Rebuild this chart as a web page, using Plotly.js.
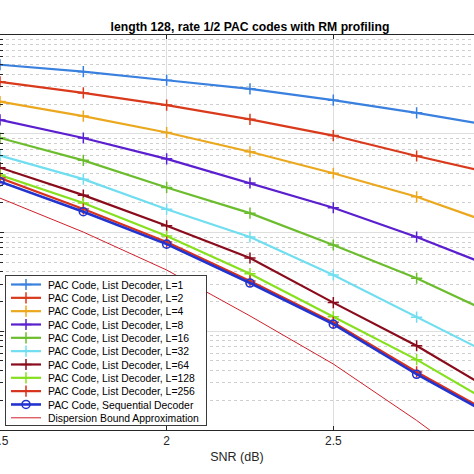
<!DOCTYPE html>
<html>
<head>
<meta charset="utf-8">
<script src="https://cdn.plot.ly/plotly-3.0.1.min.js"></script>
<style>
  html, body { margin: 0; padding: 0; background: #fff; }
  #chart { width: 474px; height: 474px; }
</style>
</head>
<body>
<div id="chart"></div>
<script>
// SNR grid (dB)
const snr = [1.5, 1.75, 2, 2.25, 2.5, 2.75, 3];

// Frame error rates, list decoder with list size L
const ferL1   = [0.50, 0.425, 0.348, 0.285, 0.219, 0.163, 0.117];
const ferL2   = [0.336, 0.259, 0.195, 0.140, 0.0959, 0.0595, 0.0382];
const ferL4   = [0.212, 0.151, 0.103, 0.0657, 0.0398, 0.0230, 0.0116];
const ferL8   = [0.138, 0.0906, 0.0557, 0.0317, 0.0178, 0.0090, 0.0042];
const ferL16  = [0.0906, 0.0538, 0.0286, 0.0157, 0.00747, 0.00344, 0.00139];
const ferL32  = [0.0600, 0.0347, 0.0172, 0.0090, 0.00372, 0.00139, 0.000524];
const ferL64  = [0.0453, 0.0239, 0.0117, 0.00552, 0.00195, 0.000713, 0.000226];
const ferL128 = [0.0382, 0.0199, 0.00922, 0.00383, 0.00140, 0.000516, 0.000167];
const ferL256 = [0.0356, 0.0173, 0.00801, 0.00323, 0.00123, 0.000387, 0.000132];

// Sequential decoder and the dispersion-bound approximation
const ferSeq   = [0.0327, 0.01625, 0.00762, 0.00308, 0.00118, 0.000367, 0.000126];
const ferBound = [0.0223, 0.0101, 0.00417, 0.00143, 0.000466, 0.000125, 0.000030];

const listSizes = [1, 2, 4, 8, 16, 32, 64, 128, 256];
const listSeries = [ferL1, ferL2, ferL4, ferL8, ferL16, ferL32, ferL64, ferL128, ferL256];
const listColors = ['#3a80de', '#d93a1c', '#eba81f', '#5a1fce', '#6cbd2e',
                    '#70def0', '#8a0c1c', '#86e01e', '#d8321c'];

const FONT = 'Liberation Sans, Arial, Helvetica, sans-serif';

const traces = listSeries.map((ys, i) => ({
  x: snr, y: ys, type: 'scatter', mode: 'lines+markers',
  name: 'PAC Code, List Decoder, L=' + listSizes[i],
  line: { color: listColors[i], width: 2.2 },
  marker: { symbol: 'cross-thin', size: 8,
            line: { color: listColors[i], width: 1.5 } }
}));

traces.push({
  x: snr, y: ferSeq, type: 'scatter', mode: 'lines+markers',
  name: 'PAC Code, Sequential Decoder',
  line: { color: '#2233cf', width: 2.6 },
  marker: { symbol: 'circle-open', size: 8,
            line: { color: '#2233cf', width: 1.6 } }
});

traces.push({
  x: snr, y: ferBound, type: 'scatter', mode: 'lines',
  name: 'Dispersion Bound Approximation',
  line: { color: '#d0202a', width: 1 }
});

const layout = {
  width: 474, height: 474,
  margin: { l: 0, r: 0, t: 35, b: 44, pad: 0 },
  paper_bgcolor: '#fff', plot_bgcolor: '#fff',
  font: { family: FONT, color: '#262626', size: 12 },
  showlegend: true,
  title: {
    text: '<b>length 128, rate 1/2 PAC codes with RM profiling</b>',
    font: { family: FONT, size: 12.2, color: '#000' },
    x: 250 / 474, xref: 'paper', xanchor: 'center',
    y: 1 - 27 / 474, yref: 'container', yanchor: 'middle'
  },
  xaxis: {
    range: [1.5, 1.5 + 474 / 333.3],
    tickvals: [1.5, 2, 2.5, 3],
    ticktext: ['1.5', '2', '2.5', '3'],
    ticklabeloverflow: 'allow',
    ticks: 'inside', ticklen: 4, tickcolor: '#262626', tickwidth: 1,
    showline: true, linecolor: '#262626', linewidth: 1, mirror: 'ticks',
    showgrid: true, gridcolor: '#dedede', gridwidth: 1,
    zeroline: false,
    tickfont: { family: FONT, size: 12, color: '#262626' },
    title: { text: 'SNR (dB)', font: { family: FONT, size: 12.5, color: '#262626' }, standoff: 4 },
    automargin: false
  },
  yaxis: {
    type: 'log',
    range: [-4, 0],
    dtick: 1,
    ticks: 'inside', ticklen: 4, tickcolor: '#262626', tickwidth: 1,
    showline: false,
    showgrid: true, gridcolor: '#dedede', gridwidth: 1,
    zeroline: false,
    showticklabels: true,
    exponentformat: 'power',
    minor: {
      dtick: 'D1',
      ticks: 'inside', ticklen: 2.5, tickcolor: '#262626',
      showgrid: true, gridcolor: '#cfcfcf', griddash: 'dot', gridwidth: 1
    },
    automargin: false
  },
  legend: {
    x: 5 / 474, xanchor: 'left', xref: 'paper',
    y: 0.011, yanchor: 'bottom', yref: 'paper',
    bgcolor: '#ffffff', bordercolor: '#3a3a3a', borderwidth: 1,
    font: { family: FONT, size: 10.4, color: '#000' },
    itemwidth: 30,
    tracegroupgap: 0
  }
};

// Compact legend: rows packed at a fixed pitch inside a fixed-size box
const LEGEND_BOX = { left: 5, top: 275, width: 202, rowPitch: 13.33, firstRow: 9.5, bottomPad: 7.5, textX: 42 };

function compactLegend(gd) {
  const leg = gd.querySelector('.legend');
  if (!leg) return;
  const items = leg.querySelectorAll('.traces');
  items.forEach((g, i) => {
    const m = /translate\(\s*([-\d.]+)[ ,]+([-\d.]+)\s*\)/.exec(g.getAttribute('transform') || '');
    const x0 = m ? parseFloat(m[1]) : 1;
    g.setAttribute('transform', 'translate(' + x0 + ',' + (LEGEND_BOX.firstRow + i * LEGEND_BOX.rowPitch) + ')');
    const txt = g.querySelector('.legendtext');
    if (txt) txt.setAttribute('x', LEGEND_BOX.textX);
  });
  const h = LEGEND_BOX.firstRow + (items.length - 1) * LEGEND_BOX.rowPitch + LEGEND_BOX.bottomPad;
  const bg = leg.querySelector('rect.bg');
  if (bg) {
    bg.setAttribute('width', LEGEND_BOX.width - 1);
    bg.setAttribute('height', h);
  }
  leg.setAttribute('transform', 'translate(' + LEGEND_BOX.left + ',' + LEGEND_BOX.top + ')');
}

Plotly.newPlot('chart', traces, layout, { displayModeBar: false, staticPlot: true })
  .then(compactLegend);
</script>
</body>
</html>
